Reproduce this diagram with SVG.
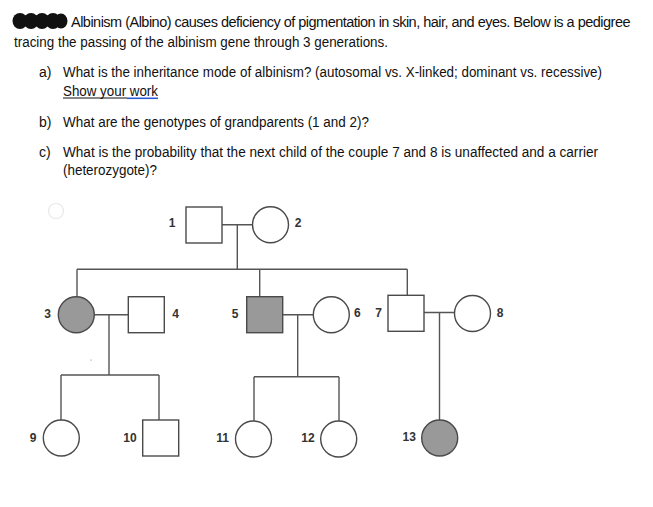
<svg xmlns="http://www.w3.org/2000/svg" width="653" height="507" viewBox="0 0 653 507">
<style>
.t{font-family:"Liberation Sans",Arial,sans-serif;font-size:14px;fill:#111}
.t1{letter-spacing:-0.5px}
.l{font-family:"Liberation Sans",Arial,sans-serif;font-size:12px;font-weight:bold;fill:#333;dominant-baseline:central}
.ln{stroke:#555;stroke-width:1.4;fill:none}
.sh{stroke:#4a4a4a;stroke-width:1.4;fill:#fff}
.af{fill:#999}
</style>
<rect width="653" height="507" fill="#fff"/>
<g id="redaction" fill="#111">
<ellipse cx="20" cy="21" rx="7.5" ry="8"/>
<ellipse cx="31" cy="21" rx="7.5" ry="8"/>
<ellipse cx="42" cy="21" rx="7.5" ry="8"/>
<ellipse cx="53" cy="21" rx="7.5" ry="8"/>
<ellipse cx="61" cy="21" rx="6.5" ry="7.5"/>
</g>
<g id="text">
<text class="t t1" x="71" y="27.3" textLength="559" lengthAdjust="spacingAndGlyphs">Albinism (Albino) causes deficiency of pigmentation in skin, hair, and eyes. Below is a pedigree</text>
<text class="t" x="14" y="46.5" textLength="374" lengthAdjust="spacingAndGlyphs">tracing the passing of the albinism gene through 3 generations.</text>
<text class="t" x="39" y="76.5">a)</text>
<text class="t" x="63" y="76.5" textLength="539" lengthAdjust="spacingAndGlyphs">What is the inheritance mode of albinism? (autosomal vs. X-linked; dominant vs. recessive)</text>
<text class="t" x="63" y="95.5" textLength="95" lengthAdjust="spacingAndGlyphs">Show your work</text>
<line x1="63" y1="98" x2="127" y2="98" stroke="#111" stroke-width="1"/>
<line x1="127" y1="98.3" x2="158" y2="98.3" stroke="#2a5bd7" stroke-width="1.6"/>
<text class="t" x="39" y="126.5">b)</text>
<text class="t" x="63" y="126.5" textLength="306" lengthAdjust="spacingAndGlyphs">What are the genotypes of grandparents (1 and 2)?</text>
<text class="t" x="39" y="156.5">c)</text>
<text class="t" x="63" y="156.5" textLength="535" lengthAdjust="spacingAndGlyphs">What is the probability that the next child of the couple 7 and 8 is unaffected and a carrier</text>
<text class="t" x="63" y="175" textLength="94" lengthAdjust="spacingAndGlyphs">(heterozygote)?</text>
</g>
<circle cx="56" cy="211" r="7.5" fill="none" stroke="#e8e8e8" stroke-width="1.2"/>
<rect x="90.5" y="359.5" width="1.2" height="1.2" fill="#aaa"/>
<g id="connectors">
<path class="ln" d="M222 224.7H252.5M237.3 224.7V269.3M77 269.3H407.3M77 269.3V296.7M259.7 269.3V296.7M407.3 269.3V295.3"/>
<path class="ln" d="M94.3 314.7H128.3M109 314.7V375M61 375H159M61 375V420M159 375V420"/>
<path class="ln" d="M282.7 314.7H313.3M297.7 314.7V376.7M254 376.7H339M254 376.7V421M339 376.7V421"/>
<path class="ln" d="M424 312.5H454.5M439.5 312.5V420"/>
</g>
<g id="n1"><rect class="sh" x="186" y="207" width="36" height="36"/><text class="l" x="172" y="223" text-anchor="middle">1</text></g>
<g id="n2"><circle class="sh" cx="270.5" cy="224.7" r="18"/><text class="l" x="298" y="223" text-anchor="middle">2</text></g>
<g id="n3"><circle class="sh af" cx="76.3" cy="314.7" r="18"/><text class="l" x="47.7" y="314" text-anchor="middle">3</text></g>
<g id="n4"><rect class="sh" x="128.3" y="296.7" width="36" height="36"/><text class="l" x="175.7" y="314" text-anchor="middle">4</text></g>
<g id="n5"><rect class="sh af" x="246.7" y="296.7" width="36" height="36"/><text class="l" x="235" y="314" text-anchor="middle">5</text></g>
<g id="n6"><circle class="sh" cx="331.3" cy="314.7" r="18"/><text class="l" x="357.3" y="313" text-anchor="middle">6</text></g>
<g id="n7"><rect class="sh" x="388" y="295.3" width="36" height="36"/><text class="l" x="378.7" y="313" text-anchor="middle">7</text></g>
<g id="n8"><circle class="sh" cx="472.5" cy="313.5" r="18"/><text class="l" x="500" y="313" text-anchor="middle">8</text></g>
<g id="n9"><circle class="sh" cx="61.3" cy="438" r="18"/><text class="l" x="33" y="438" text-anchor="middle">9</text></g>
<g id="n10"><rect class="sh" x="142.7" y="420" width="36" height="36"/><text class="l" x="130" y="438" text-anchor="middle">10</text></g>
<g id="n11"><circle class="sh" cx="253.5" cy="439" r="18"/><text class="l" x="222.7" y="438" text-anchor="middle">11</text></g>
<g id="n12"><circle class="sh" cx="338.7" cy="439" r="18"/><text class="l" x="308" y="438" text-anchor="middle">12</text></g>
<g id="n13"><circle class="sh af" cx="439.7" cy="438" r="18"/><text class="l" x="409.3" y="437" text-anchor="middle">13</text></g>
</svg>
